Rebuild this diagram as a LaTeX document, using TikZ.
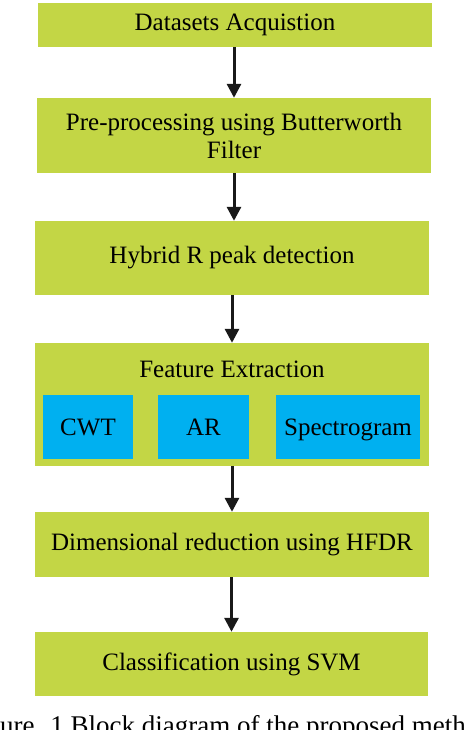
\documentclass[tikz,border=0pt]{standalone}
\usepackage{fontspec}
\setmainfont{Liberation Serif}
\usetikzlibrary{arrows.meta, positioning}
\definecolor{boxgreen}{RGB}{195, 214, 69}
\definecolor{boxcyan}{RGB}{0, 176, 240}

\begin{document}
\begin{tikzpicture}[x=1pt, y=-1pt,
  stage/.style={fill=boxgreen, minimum width=394pt, inner sep=0pt, align=center, font=\fontsize{25}{28}\selectfont},
  method/.style={fill=boxcyan, minimum height=64pt, inner sep=0pt, text height=20pt, text depth=3pt, font=\fontsize{25}{28}\selectfont},
  flow/.style={line width=3pt, black!90, -{Triangle[width=14pt, length=14pt]}}]
\useasboundingbox (0,0) rectangle (466,730);

% Pipeline stages
\node[stage, minimum height=44pt] (acq) at (235,25) {Datasets Acquistion};
\node[stage, minimum height=75pt] (pre) at (234,135.5) {Pre-processing using Butterworth\\Filter};
\node[stage, minimum height=74pt] (rpeak) at (232,258) {Hybrid R peak detection};

% Feature extraction with its methods
\node[stage, minimum height=123pt] (feat) at (232,404.5) {};
\node[font=\fontsize{25}{28}\selectfont] (featlabel) at (232,369) {Feature Extraction};
\node[method, minimum width=90pt] (cwt) at (88,427) {CWT};
\node[method, minimum width=91pt] (ar) at (203.5,427) {AR};
\node[method, minimum width=144pt] (spec) at (348,426.5) {Spectrogram};

\node[stage, minimum height=65pt] (hfdr) at (232,544.5) {Dimensional reduction using HFDR};
\node[stage, minimum width=393pt, minimum height=64pt] (svm) at (231.5,664) {Classification using SVM};

% Caption (cut by the page edge)
\node[anchor=base, inner sep=0pt, font=\fontsize{27}{30}\selectfont] (caption) at (233,734) {ure. 1 Block diagram of the proposed meth};

% Arrows
\draw[flow] (acq.south -| pre) -- (pre);
\draw[flow] (pre) -- (pre |- rpeak.north);
\draw[flow] (rpeak) -- (feat);
\draw[flow] (feat) -- (hfdr);
\draw[flow] (hfdr.south -| svm) -- (svm);
\end{tikzpicture}
\end{document}
